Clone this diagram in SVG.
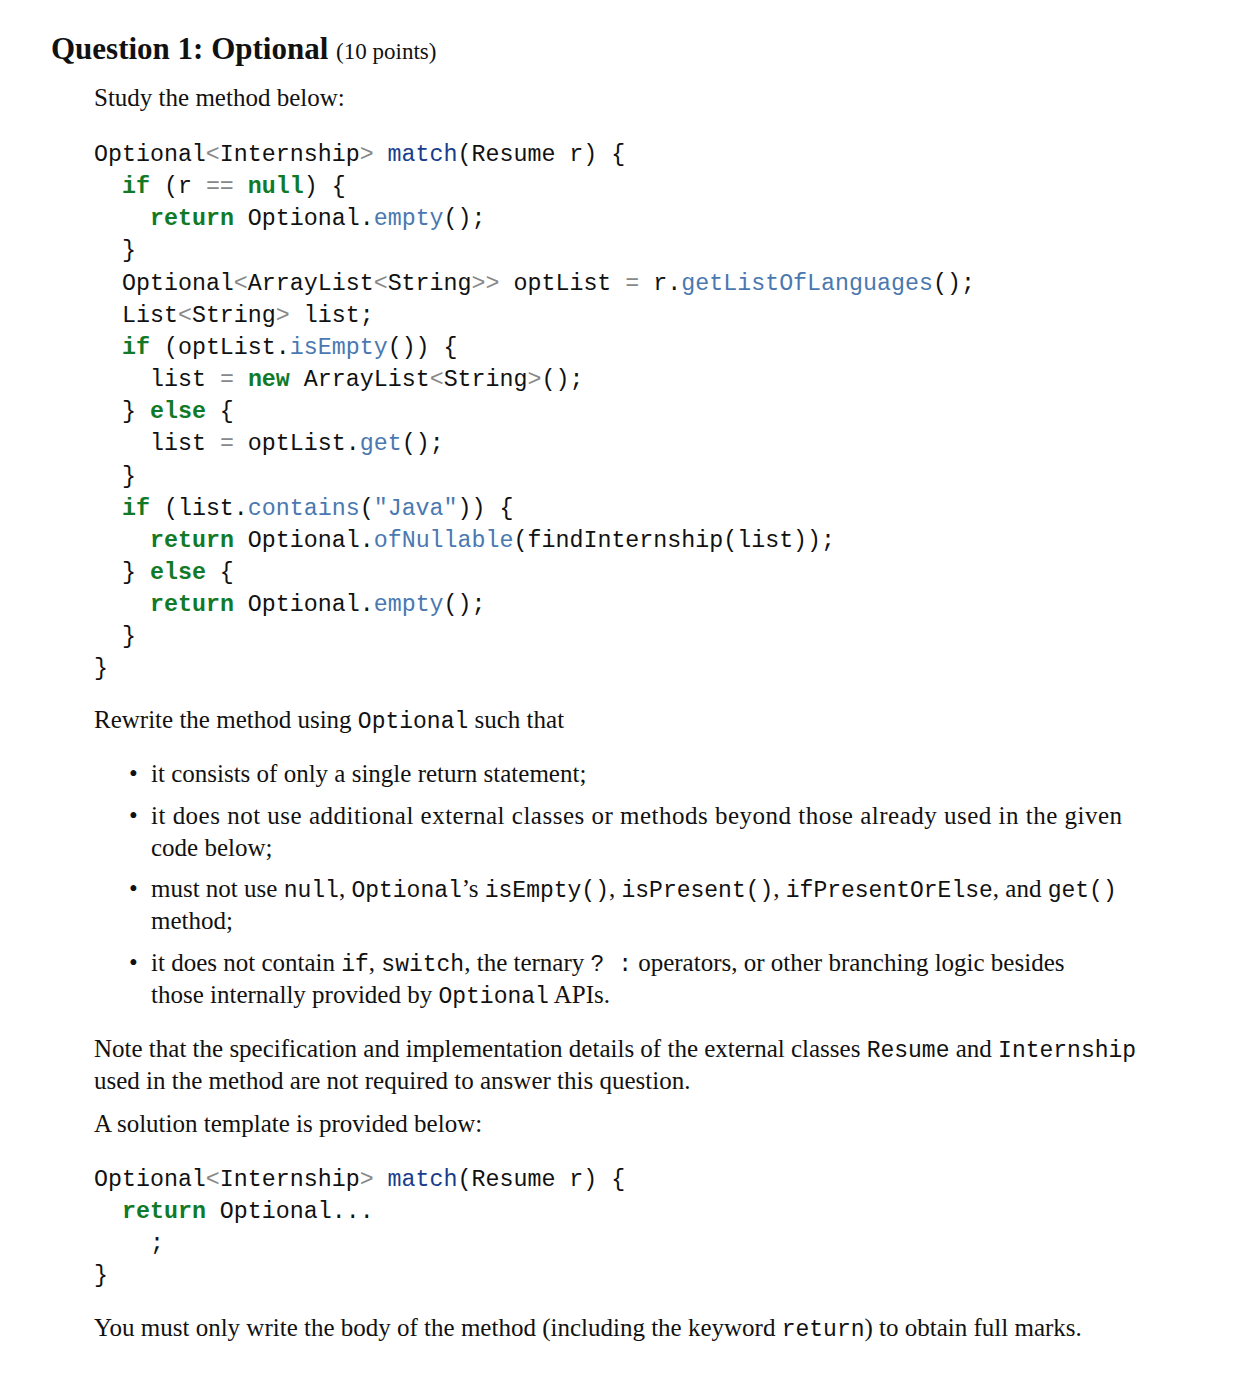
<svg xmlns="http://www.w3.org/2000/svg" width="1259" height="1399" viewBox="0 0 1259 1399">
<style>
.t{font-family:"Liberation Serif",serif;font-size:25px;fill:#111}
.c{font-family:"Liberation Mono",monospace;font-size:23.3px;fill:#111;white-space:pre}
.k{fill:#107a28;font-weight:bold}
.m{fill:#4a78b0}
.d{fill:#1a3c8c}
.o{fill:#888}
.s{fill:#4a78b0}
.ic{font-family:"Liberation Mono",monospace;font-size:23px}
</style>
<rect width="1259" height="1399" fill="#fff"/>
<text x="51" y="59" class="t" style="font-size:31px;font-weight:bold">Question 1: Optional <tspan style="font-size:23px;font-weight:normal">(10 points)</tspan></text>
<text x="94" y="106" class="t">Study the method below:</text>
<g xml:space="preserve">
<text x="94" y="161" class="c">Optional<tspan class="o">&lt;</tspan>Internship<tspan class="o">&gt;</tspan> <tspan class="d">match</tspan>(Resume r) {</text>
<text x="122" y="193" class="c"><tspan class="k">if</tspan> (r <tspan class="o">==</tspan> <tspan class="k">null</tspan>) {</text>
<text x="150" y="225" class="c"><tspan class="k">return</tspan> Optional.<tspan class="m">empty</tspan>();</text>
<text x="122" y="257" class="c">}</text>
<text x="122" y="290" class="c">Optional<tspan class="o">&lt;</tspan>ArrayList<tspan class="o">&lt;</tspan>String<tspan class="o">&gt;&gt;</tspan> optList <tspan class="o">=</tspan> r.<tspan class="m">getListOfLanguages</tspan>();</text>
<text x="122" y="322" class="c">List<tspan class="o">&lt;</tspan>String<tspan class="o">&gt;</tspan> list;</text>
<text x="122" y="354" class="c"><tspan class="k">if</tspan> (optList.<tspan class="m">isEmpty</tspan>()) {</text>
<text x="150" y="386" class="c">list <tspan class="o">=</tspan> <tspan class="k">new</tspan> ArrayList<tspan class="o">&lt;</tspan>String<tspan class="o">&gt;</tspan>();</text>
<text x="122" y="418" class="c">} <tspan class="k">else</tspan> {</text>
<text x="150" y="450" class="c">list <tspan class="o">=</tspan> optList.<tspan class="m">get</tspan>();</text>
<text x="122" y="483" class="c">}</text>
<text x="122" y="515" class="c"><tspan class="k">if</tspan> (list.<tspan class="m">contains</tspan>(<tspan class="s">"Java"</tspan>)) {</text>
<text x="150" y="547" class="c"><tspan class="k">return</tspan> Optional.<tspan class="m">ofNullable</tspan>(findInternship(list));</text>
<text x="122" y="579" class="c">} <tspan class="k">else</tspan> {</text>
<text x="150" y="611" class="c"><tspan class="k">return</tspan> Optional.<tspan class="m">empty</tspan>();</text>
<text x="122" y="643" class="c">}</text>
<text x="94" y="675" class="c">}</text>
</g>
<text x="94" y="728" class="t">Rewrite the method using <tspan class="ic">Optional</tspan> such that</text>
<g class="t">
<text x="129" y="782">•</text>
<text x="151" y="782">it consists of only a single return statement;</text>
<text x="129" y="824">•</text>
<text x="151" y="824" textLength="971">it does not use additional external classes or methods beyond those already used in the given</text>
<text x="151" y="856">code below;</text>
<text x="129" y="897">•</text>
<text x="151" y="897" xml:space="preserve">must not use <tspan class="ic">null</tspan>, <tspan class="ic">Optional</tspan>’s <tspan class="ic">isEmpty()</tspan>, <tspan class="ic">isPresent()</tspan>, <tspan class="ic">ifPresentOrElse</tspan>, and <tspan class="ic">get()</tspan></text>
<text x="151" y="929">method;</text>
<text x="129" y="971">•</text>
<text x="151" y="971" xml:space="preserve">it does not contain <tspan class="ic">if</tspan>, <tspan class="ic">switch</tspan>, the ternary <tspan class="ic">? :</tspan> operators, or other branching logic besides</text>
<text x="151" y="1003">those internally provided by <tspan class="ic">Optional</tspan> APIs.</text>
</g>
<text x="94" y="1057" class="t">Note that the specification and implementation details of the external classes <tspan class="ic">Resume</tspan> and <tspan class="ic">Internship</tspan></text>
<text x="94" y="1089" class="t">used in the method are not required to answer this question.</text>
<text x="94" y="1132" class="t">A solution template is provided below:</text>
<g xml:space="preserve">
<text x="94" y="1186" class="c">Optional<tspan class="o">&lt;</tspan>Internship<tspan class="o">&gt;</tspan> <tspan class="d">match</tspan>(Resume r) {</text>
<text x="122" y="1218" class="c"><tspan class="k">return</tspan> Optional...</text>
<text x="150" y="1250" class="c">;</text>
<text x="94" y="1282" class="c">}</text>
</g>
<text x="94" y="1336" class="t">You must only write the body of the method (including the keyword <tspan class="ic">return</tspan>) to obtain full marks.</text>
</svg>
